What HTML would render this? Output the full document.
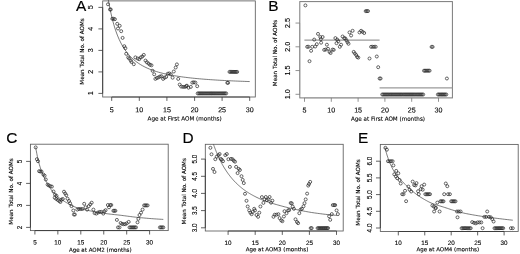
<!DOCTYPE html>
<html lang="en"><head><meta charset="utf-8"><title>Mean total number of AOMs by age at AOM</title>
<style>
html,body{margin:0;padding:0;background:#fff;}
body{width:520px;height:254px;overflow:hidden;font-family:"Liberation Sans",sans-serif;}
svg{display:block;}
</style></head><body>
<svg width="520" height="254" viewBox="0 0 520 254">
<rect width="520" height="254" fill="#fff"/>
<g id="panelA">
<rect x="102.70" y="0.90" width="152.60" height="96.10" fill="none" stroke="#5c5c5c" stroke-width="0.85"/>
<path d="M111.70 97.00H249.70M102.70 7.40V93.40" fill="none" stroke="#2b2b2b" stroke-width="0.75"/>
<path d="M111.70 97.00v3.9M139.30 97.00v3.9M166.90 97.00v3.9M194.60 97.00v3.9M222.10 97.00v3.9M249.70 97.00v3.9M102.70 93.40h-4.3M102.70 71.90h-4.3M102.70 50.40h-4.3M102.70 28.90h-4.3M102.70 7.40h-4.3" fill="none" stroke="#3a3a3a" stroke-width="0.8"/>
<g font-family="Liberation Sans, sans-serif" font-size="7.1" fill="#000" stroke="#000" stroke-width="0.12" text-anchor="middle">
<text transform="translate(111.70 112.20) rotate(0.05)">5</text>
<text transform="translate(139.30 112.20) rotate(0.05)">10</text>
<text transform="translate(166.90 112.20) rotate(0.05)">15</text>
<text transform="translate(194.60 112.20) rotate(0.05)">20</text>
<text transform="translate(222.10 112.20) rotate(0.05)">25</text>
<text transform="translate(249.70 112.20) rotate(0.05)">30</text>
<text transform="translate(92.70 93.40) rotate(-90)">1</text>
<text transform="translate(92.70 71.90) rotate(-90)">2</text>
<text transform="translate(92.70 50.40) rotate(-90)">3</text>
<text transform="translate(92.70 28.90) rotate(-90)">4</text>
<text transform="translate(92.70 7.40) rotate(-90)">5</text>
</g>
<g font-family="DejaVu Sans, Liberation Sans, sans-serif" fill="#000" stroke="#000" stroke-width="0.12" text-anchor="middle">
<text transform="translate(184.60 120.60) rotate(0.04)" font-size="5.64">Age at First AOM (months)</text>
<text transform="translate(84.00 51.50) rotate(-90)" font-size="5.64">Mean Total No. of AOMs</text>
</g>
<text x="76.10" y="10.90" font-family="Liberation Sans, sans-serif" font-size="15.4" fill="#000" stroke="#000" stroke-width="0.15">A</text>
<path d="M108.39 0.10L110.18 9.74L111.97 17.75L113.75 24.48L115.54 30.19L117.33 35.09L119.12 39.33L120.91 43.03L122.70 46.26L124.49 49.12L126.28 51.65L128.06 53.91L129.85 55.94L131.64 57.76L133.43 59.41L135.22 60.90L137.01 62.25L138.80 63.49L140.59 64.63L142.37 65.67L144.16 66.63L145.95 67.51L147.74 68.33L149.53 69.09L151.32 69.79L153.11 70.45L154.90 71.06L156.68 71.63L158.47 72.16L160.26 72.66L162.05 73.13L163.84 73.57L165.63 73.99L167.42 74.38L169.21 74.75L170.99 75.10L172.78 75.43L174.57 75.74L176.36 76.04L178.15 76.32L179.94 76.59L181.73 76.84L183.52 77.08L185.30 77.31L187.09 77.53L188.88 77.74L190.67 77.94L192.46 78.14L194.25 78.32L196.04 78.49L197.83 78.66L199.61 78.82L201.40 78.98L203.19 79.12L204.98 79.27L206.77 79.40L208.56 79.53L210.35 79.66L212.14 79.78L213.92 79.90L215.71 80.01L217.50 80.12L219.29 80.22L221.08 80.33L222.87 80.42L224.66 80.52L226.45 80.61L228.23 80.70L230.02 80.78L231.81 80.86L233.60 80.94L235.39 81.02L237.18 81.10L238.97 81.17L240.76 81.24L242.54 81.31L244.33 81.37L246.12 81.44L247.91 81.50L249.70 81.56" fill="none" stroke="#333" stroke-width="0.65"/>
<g fill="none" stroke="#262626" stroke-width="0.7">
<circle cx="108.0" cy="4.3" r="1.5"/>
<circle cx="110.0" cy="9.5" r="1.5"/>
<circle cx="110.8" cy="9.5" r="1.5"/>
<circle cx="112.3" cy="18.8" r="1.5"/>
<circle cx="113.5" cy="18.8" r="1.5"/>
<circle cx="114.9" cy="19.2" r="1.5"/>
<circle cx="117.2" cy="23.8" r="1.5"/>
<circle cx="119.7" cy="25.8" r="1.5"/>
<circle cx="118.0" cy="28.5" r="1.5"/>
<circle cx="121.2" cy="31.2" r="1.5"/>
<circle cx="122.6" cy="37.9" r="1.5"/>
<circle cx="124.3" cy="46.2" r="1.5"/>
<circle cx="125.4" cy="48.2" r="1.5"/>
<circle cx="126.2" cy="53.8" r="1.5"/>
<circle cx="128.2" cy="57.4" r="1.5"/>
<circle cx="129.2" cy="58.5" r="1.5"/>
<circle cx="130.8" cy="60.5" r="1.5"/>
<circle cx="131.5" cy="62.0" r="1.5"/>
<circle cx="133.8" cy="64.2" r="1.5"/>
<circle cx="135.4" cy="57.4" r="1.5"/>
<circle cx="137.7" cy="58.5" r="1.5"/>
<circle cx="139.2" cy="59.2" r="1.5"/>
<circle cx="140.8" cy="57.4" r="1.5"/>
<circle cx="142.3" cy="56.5" r="1.5"/>
<circle cx="143.8" cy="54.9" r="1.5"/>
<circle cx="145.5" cy="60.6" r="1.5"/>
<circle cx="146.9" cy="62.3" r="1.5"/>
<circle cx="148.5" cy="63.5" r="1.5"/>
<circle cx="150.0" cy="64.8" r="1.5"/>
<circle cx="151.5" cy="65.3" r="1.5"/>
<circle cx="152.6" cy="70.8" r="1.5"/>
<circle cx="154.2" cy="74.3" r="1.5"/>
<circle cx="155.4" cy="78.9" r="1.5"/>
<circle cx="156.9" cy="78.0" r="1.5"/>
<circle cx="158.5" cy="77.4" r="1.5"/>
<circle cx="160.0" cy="76.5" r="1.5"/>
<circle cx="161.5" cy="76.2" r="1.5"/>
<circle cx="163.1" cy="78.9" r="1.5"/>
<circle cx="164.6" cy="77.7" r="1.5"/>
<circle cx="166.2" cy="76.9" r="1.5"/>
<circle cx="167.7" cy="73.8" r="1.5"/>
<circle cx="169.2" cy="73.4" r="1.5"/>
<circle cx="170.8" cy="74.3" r="1.5"/>
<circle cx="172.6" cy="77.7" r="1.5"/>
<circle cx="173.8" cy="71.5" r="1.5"/>
<circle cx="175.7" cy="67.5" r="1.5"/>
<circle cx="176.9" cy="64.4" r="1.5"/>
<circle cx="178.2" cy="78.9" r="1.5"/>
<circle cx="179.7" cy="84.6" r="1.5"/>
<circle cx="181.2" cy="86.6" r="1.5"/>
<circle cx="183.1" cy="86.9" r="1.5"/>
<circle cx="184.9" cy="86.9" r="1.5"/>
<circle cx="186.2" cy="86.2" r="1.5"/>
<circle cx="186.9" cy="85.7" r="1.5"/>
<circle cx="188.5" cy="87.7" r="1.5"/>
<circle cx="190.8" cy="86.9" r="1.5"/>
<circle cx="192.3" cy="82.6" r="1.5"/>
<circle cx="193.8" cy="82.3" r="1.5"/>
<circle cx="195.4" cy="82.6" r="1.5"/>
<circle cx="197.2" cy="86.2" r="1.5"/>
<circle cx="227.3" cy="82.8" r="1.5"/>
<circle cx="228.1" cy="82.8" r="1.5"/>
<circle cx="197.7" cy="93.4" r="1.5"/>
<circle cx="198.8" cy="93.4" r="1.5"/>
<circle cx="199.9" cy="93.4" r="1.5"/>
<circle cx="201.0" cy="93.4" r="1.5"/>
<circle cx="202.1" cy="93.4" r="1.5"/>
<circle cx="203.2" cy="93.4" r="1.5"/>
<circle cx="204.3" cy="93.4" r="1.5"/>
<circle cx="205.4" cy="93.4" r="1.5"/>
<circle cx="206.5" cy="93.4" r="1.5"/>
<circle cx="207.6" cy="93.4" r="1.5"/>
<circle cx="208.7" cy="93.4" r="1.5"/>
<circle cx="209.8" cy="93.4" r="1.5"/>
<circle cx="210.9" cy="93.4" r="1.5"/>
<circle cx="211.9" cy="93.4" r="1.5"/>
<circle cx="213.0" cy="93.4" r="1.5"/>
<circle cx="214.1" cy="93.4" r="1.5"/>
<circle cx="215.2" cy="93.4" r="1.5"/>
<circle cx="216.3" cy="93.4" r="1.5"/>
<circle cx="217.4" cy="93.4" r="1.5"/>
<circle cx="218.5" cy="93.4" r="1.5"/>
<circle cx="219.6" cy="93.4" r="1.5"/>
<circle cx="220.7" cy="93.4" r="1.5"/>
<circle cx="221.8" cy="93.4" r="1.5"/>
<circle cx="222.9" cy="93.4" r="1.5"/>
<circle cx="224.0" cy="93.4" r="1.5"/>
<circle cx="225.1" cy="93.4" r="1.5"/>
<circle cx="226.2" cy="93.4" r="1.5"/>
<circle cx="229.5" cy="71.9" r="1.5"/>
<circle cx="230.6" cy="71.9" r="1.5"/>
<circle cx="231.7" cy="71.9" r="1.5"/>
<circle cx="232.8" cy="71.9" r="1.5"/>
<circle cx="233.9" cy="71.9" r="1.5"/>
<circle cx="235.0" cy="71.9" r="1.5"/>
<circle cx="236.1" cy="71.9" r="1.5"/>
<circle cx="237.2" cy="71.9" r="1.5"/>
</g>
</g>
<g id="panelB">
<rect x="299.80" y="1.60" width="152.60" height="96.30" fill="none" stroke="#7a7a7a" stroke-width="1.0"/>
<path d="M304.50 97.90H438.50M299.80 23.05V94.30" fill="none" stroke="#777" stroke-width="0.3"/>
<path d="M304.50 97.90v3.9M331.30 97.90v3.9M358.10 97.90v3.9M384.90 97.90v3.9M411.70 97.90v3.9M438.50 97.90v3.9M299.80 94.30h-4.3M299.80 70.55h-4.3M299.80 46.80h-4.3M299.80 23.05h-4.3" fill="none" stroke="#777" stroke-width="0.8"/>
<g font-family="Liberation Sans, sans-serif" font-size="7.1" fill="#000" stroke="#000" stroke-width="0.12" text-anchor="middle">
<text transform="translate(304.50 112.60) rotate(0.05)">5</text>
<text transform="translate(331.30 112.60) rotate(0.05)">10</text>
<text transform="translate(358.10 112.60) rotate(0.05)">15</text>
<text transform="translate(384.90 112.60) rotate(0.05)">20</text>
<text transform="translate(411.70 112.60) rotate(0.05)">25</text>
<text transform="translate(438.50 112.60) rotate(0.05)">30</text>
<text transform="translate(289.80 94.30) rotate(-90)">1.0</text>
<text transform="translate(289.80 70.55) rotate(-90)">1.5</text>
<text transform="translate(289.80 46.80) rotate(-90)">2.0</text>
<text transform="translate(289.80 23.05) rotate(-90)">2.5</text>
</g>
<g font-family="DejaVu Sans, Liberation Sans, sans-serif" fill="#000" stroke="#000" stroke-width="0.12" text-anchor="middle">
<text transform="translate(388.00 120.70) rotate(0.04)" font-size="5.64">Age at First AOM (months)</text>
<text transform="translate(277.10 53.00) rotate(-90)" font-size="5.64">Mean Total No. of AOMs</text>
</g>
<text x="268.20" y="10.90" font-family="Liberation Sans, sans-serif" font-size="15.4" fill="#000" stroke="#000" stroke-width="0.15">B</text>
<path d="M304.40 40.10H379.60" fill="none" stroke="#9a9a9a" stroke-width="1.1"/>
<path d="M379.60 87.90H452.40" fill="none" stroke="#9a9a9a" stroke-width="1.1"/>
<g fill="none" stroke="#262626" stroke-width="0.7">
<circle cx="305.4" cy="5.4" r="1.5"/>
<circle cx="365.7" cy="11.1" r="1.5"/>
<circle cx="366.8" cy="11.1" r="1.5"/>
<circle cx="368.0" cy="11.1" r="1.5"/>
<circle cx="307.2" cy="46.8" r="1.5"/>
<circle cx="308.5" cy="46.8" r="1.5"/>
<circle cx="309.5" cy="61.2" r="1.5"/>
<circle cx="311.1" cy="50.8" r="1.5"/>
<circle cx="312.2" cy="46.8" r="1.5"/>
<circle cx="314.2" cy="39.6" r="1.5"/>
<circle cx="315.2" cy="46.5" r="1.5"/>
<circle cx="316.8" cy="44.2" r="1.5"/>
<circle cx="318.0" cy="33.9" r="1.5"/>
<circle cx="320.3" cy="37.0" r="1.5"/>
<circle cx="322.6" cy="37.0" r="1.5"/>
<circle cx="320.8" cy="39.2" r="1.5"/>
<circle cx="321.1" cy="42.7" r="1.5"/>
<circle cx="326.9" cy="44.7" r="1.5"/>
<circle cx="324.2" cy="49.9" r="1.5"/>
<circle cx="325.7" cy="49.6" r="1.5"/>
<circle cx="328.0" cy="48.8" r="1.5"/>
<circle cx="329.5" cy="51.9" r="1.5"/>
<circle cx="330.6" cy="53.0" r="1.5"/>
<circle cx="332.6" cy="49.6" r="1.5"/>
<circle cx="333.7" cy="49.9" r="1.5"/>
<circle cx="335.4" cy="38.1" r="1.5"/>
<circle cx="337.2" cy="39.6" r="1.5"/>
<circle cx="338.3" cy="41.2" r="1.5"/>
<circle cx="336.5" cy="43.2" r="1.5"/>
<circle cx="341.1" cy="44.7" r="1.5"/>
<circle cx="339.8" cy="46.8" r="1.5"/>
<circle cx="342.6" cy="36.5" r="1.5"/>
<circle cx="344.2" cy="38.1" r="1.5"/>
<circle cx="345.4" cy="38.5" r="1.5"/>
<circle cx="346.5" cy="40.4" r="1.5"/>
<circle cx="347.5" cy="42.2" r="1.5"/>
<circle cx="348.5" cy="43.8" r="1.5"/>
<circle cx="349.5" cy="32.4" r="1.5"/>
<circle cx="352.6" cy="30.8" r="1.5"/>
<circle cx="351.1" cy="35.5" r="1.5"/>
<circle cx="359.5" cy="32.4" r="1.5"/>
<circle cx="361.1" cy="30.8" r="1.5"/>
<circle cx="362.6" cy="31.9" r="1.5"/>
<circle cx="364.2" cy="33.0" r="1.5"/>
<circle cx="353.7" cy="51.9" r="1.5"/>
<circle cx="354.9" cy="53.5" r="1.5"/>
<circle cx="356.2" cy="55.0" r="1.5"/>
<circle cx="357.2" cy="57.0" r="1.5"/>
<circle cx="358.3" cy="57.6" r="1.5"/>
<circle cx="369.5" cy="58.5" r="1.5"/>
<circle cx="371.1" cy="46.8" r="1.5"/>
<circle cx="372.6" cy="46.8" r="1.5"/>
<circle cx="374.2" cy="46.8" r="1.5"/>
<circle cx="375.7" cy="46.8" r="1.5"/>
<circle cx="376.8" cy="56.5" r="1.5"/>
<circle cx="378.2" cy="67.2" r="1.5"/>
<circle cx="379.6" cy="78.5" r="1.5"/>
<circle cx="380.6" cy="78.5" r="1.5"/>
<circle cx="431.6" cy="46.9" r="1.5"/>
<circle cx="432.6" cy="46.9" r="1.5"/>
<circle cx="446.9" cy="78.5" r="1.5"/>
<circle cx="424.0" cy="70.7" r="1.5"/>
<circle cx="425.1" cy="70.7" r="1.5"/>
<circle cx="426.2" cy="70.7" r="1.5"/>
<circle cx="427.4" cy="70.7" r="1.5"/>
<circle cx="428.5" cy="70.7" r="1.5"/>
<circle cx="429.6" cy="70.7" r="1.5"/>
<circle cx="382.2" cy="94.5" r="1.5"/>
<circle cx="383.3" cy="94.5" r="1.5"/>
<circle cx="384.4" cy="94.5" r="1.5"/>
<circle cx="385.5" cy="94.5" r="1.5"/>
<circle cx="386.6" cy="94.5" r="1.5"/>
<circle cx="387.7" cy="94.5" r="1.5"/>
<circle cx="388.8" cy="94.5" r="1.5"/>
<circle cx="390.0" cy="94.5" r="1.5"/>
<circle cx="391.1" cy="94.5" r="1.5"/>
<circle cx="392.2" cy="94.5" r="1.5"/>
<circle cx="393.3" cy="94.5" r="1.5"/>
<circle cx="394.4" cy="94.5" r="1.5"/>
<circle cx="395.5" cy="94.5" r="1.5"/>
<circle cx="396.6" cy="94.5" r="1.5"/>
<circle cx="397.7" cy="94.5" r="1.5"/>
<circle cx="398.8" cy="94.5" r="1.5"/>
<circle cx="399.9" cy="94.5" r="1.5"/>
<circle cx="401.0" cy="94.5" r="1.5"/>
<circle cx="402.1" cy="94.5" r="1.5"/>
<circle cx="403.3" cy="94.5" r="1.5"/>
<circle cx="404.4" cy="94.5" r="1.5"/>
<circle cx="405.5" cy="94.5" r="1.5"/>
<circle cx="406.6" cy="94.5" r="1.5"/>
<circle cx="407.7" cy="94.5" r="1.5"/>
<circle cx="408.8" cy="94.5" r="1.5"/>
<circle cx="409.9" cy="94.5" r="1.5"/>
<circle cx="411.0" cy="94.5" r="1.5"/>
<circle cx="412.1" cy="94.5" r="1.5"/>
<circle cx="413.2" cy="94.5" r="1.5"/>
<circle cx="414.3" cy="94.5" r="1.5"/>
<circle cx="415.4" cy="94.5" r="1.5"/>
<circle cx="416.6" cy="94.5" r="1.5"/>
<circle cx="417.7" cy="94.5" r="1.5"/>
<circle cx="418.8" cy="94.5" r="1.5"/>
<circle cx="419.9" cy="94.5" r="1.5"/>
<circle cx="421.0" cy="94.5" r="1.5"/>
<circle cx="422.1" cy="94.5" r="1.5"/>
<circle cx="423.2" cy="94.5" r="1.5"/>
<circle cx="437.9" cy="94.5" r="1.5"/>
<circle cx="438.9" cy="94.5" r="1.5"/>
<circle cx="440.0" cy="94.5" r="1.5"/>
<circle cx="441.1" cy="94.5" r="1.5"/>
<circle cx="442.1" cy="94.5" r="1.5"/>
<circle cx="443.1" cy="94.5" r="1.5"/>
<circle cx="444.2" cy="94.5" r="1.5"/>
<circle cx="445.2" cy="94.5" r="1.5"/>
<circle cx="446.3" cy="94.5" r="1.5"/>
</g>
</g>
<g id="panelC">
<rect x="30.40" y="144.20" width="137.80" height="86.40" fill="none" stroke="#5c5c5c" stroke-width="0.85"/>
<path d="M34.90 230.60H149.60M30.40 161.40V227.40" fill="none" stroke="#2b2b2b" stroke-width="0.75"/>
<path d="M34.90 230.60v3.9M57.85 230.60v3.9M80.80 230.60v3.9M103.75 230.60v3.9M126.70 230.60v3.9M149.60 230.60v3.9M30.40 227.40h-4.3M30.40 205.40h-4.3M30.40 183.40h-4.3M30.40 161.40h-4.3" fill="none" stroke="#3a3a3a" stroke-width="0.8"/>
<g font-family="Liberation Sans, sans-serif" font-size="6.3" fill="#000" stroke="#000" stroke-width="0.12" text-anchor="middle">
<text transform="translate(34.90 244.60) rotate(0.05)">5</text>
<text transform="translate(57.85 244.60) rotate(0.05)">10</text>
<text transform="translate(80.80 244.60) rotate(0.05)">15</text>
<text transform="translate(103.75 244.60) rotate(0.05)">20</text>
<text transform="translate(126.70 244.60) rotate(0.05)">25</text>
<text transform="translate(149.60 244.60) rotate(0.05)">30</text>
<text transform="translate(21.60 227.40) rotate(-90)">2</text>
<text transform="translate(21.60 205.40) rotate(-90)">3</text>
<text transform="translate(21.60 183.40) rotate(-90)">4</text>
<text transform="translate(21.60 161.40) rotate(-90)">5</text>
</g>
<g font-family="DejaVu Sans, Liberation Sans, sans-serif" fill="#000" stroke="#000" stroke-width="0.12" text-anchor="middle">
<text transform="translate(100.30 251.80) rotate(0.04)" font-size="5.5">Age at AOM2 (months)</text>
<text transform="translate(13.10 191.50) rotate(-90)" font-size="5.64">Mean Total No. of AOMs</text>
</g>
<text x="6.30" y="143.40" font-family="Liberation Sans, sans-serif" font-size="15.4" fill="#000" stroke="#000" stroke-width="0.15">C</text>
<path d="M35.70 147.40L35.76 147.76L35.88 148.49L36.05 149.47L36.26 150.65L36.50 151.97L36.77 153.42L37.07 154.95L37.40 156.53L37.75 158.13L38.13 159.75L38.53 161.39L38.95 163.02L39.39 164.63L39.86 166.21L40.34 167.78L40.85 169.32L41.37 170.82L41.91 172.28L42.48 173.68L43.06 175.02L43.65 176.33L44.27 177.61L44.90 178.90L45.55 180.20L46.21 181.50L46.89 182.79L47.59 184.06L48.30 185.28L49.03 186.45L49.77 187.60L50.53 188.73L51.30 189.83L52.09 190.88L52.89 191.87L53.71 192.82L54.54 193.73L55.38 194.61L56.24 195.45L57.11 196.25L58.00 197.00L58.90 197.71L59.81 198.39L60.73 199.04L61.67 199.67L62.62 200.29L63.59 200.89L64.56 201.48L65.55 202.07L66.55 202.68L67.57 203.28L68.59 203.89L69.63 204.48L70.68 205.05L71.74 205.59L72.82 206.11L73.90 206.58L75.00 207.00L76.11 207.38L77.23 207.74L78.36 208.09L79.50 208.42L80.66 208.73L81.82 209.03L83.00 209.32L84.19 209.60L85.39 209.87L86.60 210.13L87.82 210.39L89.05 210.65L90.29 210.91L91.55 211.16L92.81 211.41L94.08 211.65L95.37 211.89L96.66 212.12L97.97 212.35L99.29 212.57L100.61 212.78L101.95 212.99L103.30 213.20L104.65 213.40L106.02 213.59L107.40 213.77L108.78 213.95L110.18 214.11L111.59 214.27L113.00 214.43L114.43 214.58L115.87 214.74L117.31 214.89L118.77 215.06L120.23 215.23L121.71 215.41L123.19 215.60L124.69 215.79L126.19 215.99L127.70 216.19L129.23 216.39L130.76 216.59L132.30 216.78L133.85 216.97L135.41 217.15L136.98 217.33L138.56 217.49L140.14 217.64L141.74 217.79L143.34 217.93L144.96 218.08L146.58 218.22L148.21 218.36L149.85 218.50L151.50 218.63L153.16 218.75L154.83 218.88L156.51 218.99L158.19 219.10L159.89 219.21L161.59 219.31L163.30 219.40" fill="none" stroke="#333" stroke-width="0.65"/>
<g fill="none" stroke="#262626" stroke-width="0.7">
<circle cx="35.7" cy="147.4" r="1.5"/>
<circle cx="36.9" cy="159.2" r="1.5"/>
<circle cx="38.0" cy="161.2" r="1.5"/>
<circle cx="39.1" cy="171.2" r="1.5"/>
<circle cx="40.3" cy="171.5" r="1.5"/>
<circle cx="41.5" cy="171.5" r="1.5"/>
<circle cx="43.4" cy="174.6" r="1.5"/>
<circle cx="44.6" cy="175.7" r="1.5"/>
<circle cx="45.8" cy="179.5" r="1.5"/>
<circle cx="47.6" cy="184.6" r="1.5"/>
<circle cx="48.8" cy="185.4" r="1.5"/>
<circle cx="50.4" cy="186.2" r="1.5"/>
<circle cx="51.9" cy="186.6" r="1.5"/>
<circle cx="53.5" cy="191.5" r="1.5"/>
<circle cx="55.0" cy="194.6" r="1.5"/>
<circle cx="56.5" cy="195.8" r="1.5"/>
<circle cx="54.7" cy="197.7" r="1.5"/>
<circle cx="56.2" cy="198.9" r="1.5"/>
<circle cx="57.8" cy="200.0" r="1.5"/>
<circle cx="59.3" cy="201.1" r="1.5"/>
<circle cx="60.4" cy="202.0" r="1.5"/>
<circle cx="61.5" cy="199.6" r="1.5"/>
<circle cx="62.8" cy="199.0" r="1.5"/>
<circle cx="64.0" cy="191.7" r="1.5"/>
<circle cx="65.2" cy="193.5" r="1.5"/>
<circle cx="66.3" cy="195.2" r="1.5"/>
<circle cx="67.5" cy="198.7" r="1.5"/>
<circle cx="69.0" cy="201.0" r="1.5"/>
<circle cx="70.1" cy="203.3" r="1.5"/>
<circle cx="71.5" cy="206.1" r="1.5"/>
<circle cx="73.3" cy="210.5" r="1.5"/>
<circle cx="73.9" cy="214.5" r="1.5"/>
<circle cx="74.9" cy="214.5" r="1.5"/>
<circle cx="77.3" cy="209.6" r="1.5"/>
<circle cx="79.0" cy="209.0" r="1.5"/>
<circle cx="80.8" cy="209.0" r="1.5"/>
<circle cx="82.5" cy="209.0" r="1.5"/>
<circle cx="84.2" cy="203.8" r="1.5"/>
<circle cx="85.6" cy="207.3" r="1.5"/>
<circle cx="87.1" cy="209.6" r="1.5"/>
<circle cx="88.8" cy="206.1" r="1.5"/>
<circle cx="90.2" cy="204.4" r="1.5"/>
<circle cx="91.7" cy="202.7" r="1.5"/>
<circle cx="93.4" cy="209.6" r="1.5"/>
<circle cx="94.6" cy="213.1" r="1.5"/>
<circle cx="96.3" cy="213.6" r="1.5"/>
<circle cx="98.1" cy="212.5" r="1.5"/>
<circle cx="99.8" cy="211.9" r="1.5"/>
<circle cx="101.5" cy="211.9" r="1.5"/>
<circle cx="103.3" cy="213.6" r="1.5"/>
<circle cx="104.4" cy="211.3" r="1.5"/>
<circle cx="105.6" cy="210.2" r="1.5"/>
<circle cx="107.9" cy="205.0" r="1.5"/>
<circle cx="109.0" cy="207.3" r="1.5"/>
<circle cx="110.2" cy="205.0" r="1.5"/>
<circle cx="111.3" cy="205.0" r="1.5"/>
<circle cx="113.4" cy="210.8" r="1.5"/>
<circle cx="114.4" cy="210.8" r="1.5"/>
<circle cx="115.4" cy="210.8" r="1.5"/>
<circle cx="116.9" cy="219.9" r="1.5"/>
<circle cx="120.6" cy="223.0" r="1.5"/>
<circle cx="122.1" cy="223.9" r="1.5"/>
<circle cx="123.7" cy="224.2" r="1.5"/>
<circle cx="125.2" cy="224.2" r="1.5"/>
<circle cx="126.7" cy="223.4" r="1.5"/>
<circle cx="128.7" cy="221.9" r="1.5"/>
<circle cx="118.0" cy="227.4" r="1.5"/>
<circle cx="119.5" cy="227.4" r="1.5"/>
<circle cx="137.5" cy="222.3" r="1.5"/>
<circle cx="138.4" cy="218.8" r="1.5"/>
<circle cx="139.5" cy="215.0" r="1.5"/>
<circle cx="141.0" cy="212.7" r="1.5"/>
<circle cx="142.6" cy="209.6" r="1.5"/>
<circle cx="129.5" cy="227.4" r="1.5"/>
<circle cx="130.6" cy="227.4" r="1.5"/>
<circle cx="131.7" cy="227.4" r="1.5"/>
<circle cx="132.8" cy="227.4" r="1.5"/>
<circle cx="133.8" cy="227.4" r="1.5"/>
<circle cx="134.9" cy="227.4" r="1.5"/>
<circle cx="136.0" cy="227.4" r="1.5"/>
<circle cx="144.1" cy="205.4" r="1.5"/>
<circle cx="145.3" cy="205.4" r="1.5"/>
<circle cx="146.4" cy="205.4" r="1.5"/>
<circle cx="147.6" cy="205.4" r="1.5"/>
<circle cx="159.9" cy="227.4" r="1.5"/>
<circle cx="161.0" cy="227.4" r="1.5"/>
<circle cx="162.2" cy="227.4" r="1.5"/>
<circle cx="163.3" cy="227.4" r="1.5"/>
</g>
</g>
<g id="panelD">
<rect x="205.30" y="144.30" width="137.90" height="86.70" fill="none" stroke="#5c5c5c" stroke-width="0.85"/>
<path d="M228.10 231.00H336.50M205.30 159.10V227.80" fill="none" stroke="#2b2b2b" stroke-width="0.75"/>
<path d="M228.10 231.00v3.9M255.20 231.00v3.9M282.30 231.00v3.9M309.40 231.00v3.9M336.50 231.00v3.9M205.30 227.80h-4.3M205.30 210.60h-4.3M205.30 193.40h-4.3M205.30 176.30h-4.3M205.30 159.10h-4.3" fill="none" stroke="#3a3a3a" stroke-width="0.8"/>
<g font-family="Liberation Sans, sans-serif" font-size="6.3" fill="#000" stroke="#000" stroke-width="0.12" text-anchor="middle">
<text transform="translate(228.10 244.90) rotate(0.05)">10</text>
<text transform="translate(255.20 244.90) rotate(0.05)">15</text>
<text transform="translate(282.30 244.90) rotate(0.05)">20</text>
<text transform="translate(309.40 244.90) rotate(0.05)">25</text>
<text transform="translate(336.50 244.90) rotate(0.05)">30</text>
<text transform="translate(196.50 227.80) rotate(-90)">3.0</text>
<text transform="translate(196.50 210.60) rotate(-90)">3.5</text>
<text transform="translate(196.50 193.40) rotate(-90)">4.0</text>
<text transform="translate(196.50 176.30) rotate(-90)">4.5</text>
<text transform="translate(196.50 159.10) rotate(-90)">5.0</text>
</g>
<g font-family="DejaVu Sans, Liberation Sans, sans-serif" fill="#000" stroke="#000" stroke-width="0.12" text-anchor="middle">
<text transform="translate(277.00 251.30) rotate(0.04)" font-size="5.5">Age at AOM3 (months)</text>
<text transform="translate(185.80 191.30) rotate(-90)" font-size="5.64">Mean Total No. of AOMs</text>
</g>
<text x="182.50" y="143.40" font-family="Liberation Sans, sans-serif" font-size="15.4" fill="#000" stroke="#000" stroke-width="0.15">D</text>
<path d="M213.50 144.40L213.56 144.56L213.68 144.90L213.84 145.35L214.04 145.90L214.27 146.53L214.54 147.23L214.83 148.00L215.14 148.83L215.48 149.70L215.85 150.62L216.23 151.57L216.64 152.56L217.07 153.58L217.52 154.62L217.99 155.69L218.48 156.77L218.98 157.88L219.51 159.00L220.05 160.13L220.61 161.26L221.19 162.39L221.79 163.51L222.40 164.62L223.02 165.73L223.67 166.83L224.32 167.92L225.00 168.99L225.69 170.06L226.39 171.12L227.11 172.18L227.84 173.22L228.59 174.25L229.35 175.26L230.13 176.27L230.92 177.26L231.72 178.24L232.54 179.19L233.37 180.13L234.21 181.04L235.06 181.93L235.93 182.81L236.82 183.67L237.71 184.52L238.62 185.35L239.54 186.16L240.47 186.96L241.41 187.74L242.37 188.50L243.34 189.26L244.32 189.99L245.31 190.71L246.31 191.41L247.33 192.09L248.36 192.74L249.39 193.38L250.44 194.01L251.50 194.62L252.58 195.21L253.66 195.80L254.76 196.37L255.86 196.93L256.98 197.49L258.11 198.03L259.24 198.57L260.39 199.10L261.55 199.61L262.72 200.10L263.90 200.56L265.09 201.01L266.30 201.43L267.51 201.84L268.73 202.24L269.96 202.63L271.20 203.01L272.46 203.39L273.72 203.77L274.99 204.15L276.28 204.52L277.57 204.89L278.87 205.26L280.18 205.62L281.51 205.98L282.84 206.34L284.18 206.69L285.53 207.03L286.89 207.38L288.26 207.72L289.64 208.05L291.03 208.38L292.43 208.71L293.84 209.03L295.25 209.34L296.68 209.64L298.11 209.94L299.56 210.23L301.01 210.53L302.48 210.82L303.95 211.12L305.43 211.40L306.92 211.68L308.42 211.95L309.93 212.21L311.44 212.47L312.97 212.70L314.51 212.93L316.05 213.14L317.60 213.35L319.16 213.56L320.73 213.76L322.31 213.96L323.90 214.15L325.49 214.34L327.10 214.52L328.71 214.69L330.33 214.85L331.96 215.00L333.60 215.15L335.25 215.28L336.90 215.40" fill="none" stroke="#333" stroke-width="0.65"/>
<g fill="none" stroke="#262626" stroke-width="0.7">
<circle cx="210.4" cy="147.8" r="1.5"/>
<circle cx="211.5" cy="154.3" r="1.5"/>
<circle cx="215.3" cy="159.2" r="1.5"/>
<circle cx="213.0" cy="168.9" r="1.5"/>
<circle cx="214.5" cy="172.0" r="1.5"/>
<circle cx="216.8" cy="156.6" r="1.5"/>
<circle cx="218.4" cy="155.1" r="1.5"/>
<circle cx="219.6" cy="154.0" r="1.5"/>
<circle cx="220.7" cy="158.9" r="1.5"/>
<circle cx="221.8" cy="159.7" r="1.5"/>
<circle cx="223.0" cy="161.2" r="1.5"/>
<circle cx="225.3" cy="155.1" r="1.5"/>
<circle cx="226.8" cy="154.0" r="1.5"/>
<circle cx="228.4" cy="159.2" r="1.5"/>
<circle cx="231.0" cy="158.9" r="1.5"/>
<circle cx="232.5" cy="159.2" r="1.5"/>
<circle cx="233.8" cy="160.8" r="1.5"/>
<circle cx="235.0" cy="161.7" r="1.5"/>
<circle cx="229.9" cy="166.9" r="1.5"/>
<circle cx="236.1" cy="166.9" r="1.5"/>
<circle cx="238.7" cy="168.9" r="1.5"/>
<circle cx="239.9" cy="170.0" r="1.5"/>
<circle cx="237.6" cy="173.1" r="1.5"/>
<circle cx="241.5" cy="176.2" r="1.5"/>
<circle cx="242.7" cy="179.9" r="1.5"/>
<circle cx="243.8" cy="183.1" r="1.5"/>
<circle cx="245.0" cy="193.8" r="1.5"/>
<circle cx="246.5" cy="200.8" r="1.5"/>
<circle cx="247.7" cy="206.5" r="1.5"/>
<circle cx="249.2" cy="210.4" r="1.5"/>
<circle cx="250.4" cy="212.7" r="1.5"/>
<circle cx="251.6" cy="214.2" r="1.5"/>
<circle cx="252.7" cy="211.9" r="1.5"/>
<circle cx="254.2" cy="208.8" r="1.5"/>
<circle cx="255.0" cy="210.4" r="1.5"/>
<circle cx="256.5" cy="215.0" r="1.5"/>
<circle cx="258.1" cy="216.8" r="1.5"/>
<circle cx="259.3" cy="212.7" r="1.5"/>
<circle cx="260.4" cy="206.5" r="1.5"/>
<circle cx="263.4" cy="202.9" r="1.5"/>
<circle cx="261.9" cy="197.1" r="1.5"/>
<circle cx="265.8" cy="197.0" r="1.5"/>
<circle cx="269.6" cy="197.0" r="1.5"/>
<circle cx="264.6" cy="199.4" r="1.5"/>
<circle cx="266.9" cy="200.2" r="1.5"/>
<circle cx="268.5" cy="199.3" r="1.5"/>
<circle cx="272.4" cy="200.7" r="1.5"/>
<circle cx="271.0" cy="202.7" r="1.5"/>
<circle cx="273.5" cy="216.8" r="1.5"/>
<circle cx="274.7" cy="214.7" r="1.5"/>
<circle cx="276.5" cy="214.7" r="1.5"/>
<circle cx="278.4" cy="214.2" r="1.5"/>
<circle cx="279.6" cy="218.1" r="1.5"/>
<circle cx="281.2" cy="220.4" r="1.5"/>
<circle cx="282.4" cy="221.2" r="1.5"/>
<circle cx="283.9" cy="216.5" r="1.5"/>
<circle cx="284.5" cy="211.2" r="1.5"/>
<circle cx="286.5" cy="213.2" r="1.5"/>
<circle cx="288.1" cy="210.4" r="1.5"/>
<circle cx="289.2" cy="210.1" r="1.5"/>
<circle cx="290.7" cy="203.0" r="1.5"/>
<circle cx="291.8" cy="203.4" r="1.5"/>
<circle cx="292.7" cy="206.6" r="1.5"/>
<circle cx="293.9" cy="208.8" r="1.5"/>
<circle cx="295.5" cy="219.3" r="1.5"/>
<circle cx="297.0" cy="222.0" r="1.5"/>
<circle cx="298.1" cy="223.2" r="1.5"/>
<circle cx="299.3" cy="213.2" r="1.5"/>
<circle cx="300.6" cy="209.6" r="1.5"/>
<circle cx="301.9" cy="208.8" r="1.5"/>
<circle cx="303.5" cy="206.3" r="1.5"/>
<circle cx="304.5" cy="203.2" r="1.5"/>
<circle cx="305.7" cy="199.4" r="1.5"/>
<circle cx="307.1" cy="193.6" r="1.5"/>
<circle cx="308.2" cy="185.6" r="1.5"/>
<circle cx="309.0" cy="184.0" r="1.5"/>
<circle cx="310.2" cy="181.9" r="1.5"/>
<circle cx="310.7" cy="228.1" r="1.5"/>
<circle cx="311.7" cy="228.1" r="1.5"/>
<circle cx="332.8" cy="205.1" r="1.5"/>
<circle cx="334.2" cy="205.1" r="1.5"/>
<circle cx="335.2" cy="205.1" r="1.5"/>
<circle cx="336.6" cy="210.4" r="1.5"/>
<circle cx="337.9" cy="214.1" r="1.5"/>
<circle cx="331.8" cy="214.1" r="1.5"/>
<circle cx="329.1" cy="216.3" r="1.5"/>
<circle cx="330.2" cy="219.8" r="1.5"/>
<circle cx="317.6" cy="228.1" r="1.5"/>
<circle cx="318.7" cy="228.1" r="1.5"/>
<circle cx="319.7" cy="228.1" r="1.5"/>
<circle cx="320.8" cy="228.1" r="1.5"/>
<circle cx="321.8" cy="228.1" r="1.5"/>
<circle cx="322.9" cy="228.1" r="1.5"/>
<circle cx="323.9" cy="228.1" r="1.5"/>
<circle cx="325.0" cy="228.1" r="1.5"/>
<circle cx="326.0" cy="228.1" r="1.5"/>
<circle cx="327.1" cy="228.1" r="1.5"/>
<circle cx="328.1" cy="228.1" r="1.5"/>
</g>
</g>
<g id="panelE">
<rect x="380.30" y="144.40" width="137.90" height="87.10" fill="none" stroke="#5c5c5c" stroke-width="0.85"/>
<path d="M398.30 231.50H504.10M380.30 161.20V228.00" fill="none" stroke="#2b2b2b" stroke-width="0.75"/>
<path d="M398.30 231.50v3.9M424.75 231.50v3.9M451.20 231.50v3.9M477.65 231.50v3.9M504.10 231.50v3.9M380.30 228.00h-4.3M380.30 211.30h-4.3M380.30 194.60h-4.3M380.30 177.90h-4.3M380.30 161.20h-4.3" fill="none" stroke="#3a3a3a" stroke-width="0.8"/>
<g font-family="Liberation Sans, sans-serif" font-size="6.3" fill="#000" stroke="#000" stroke-width="0.12" text-anchor="middle">
<text transform="translate(398.30 244.90) rotate(0.05)">10</text>
<text transform="translate(424.75 244.90) rotate(0.05)">15</text>
<text transform="translate(451.20 244.90) rotate(0.05)">20</text>
<text transform="translate(477.65 244.90) rotate(0.05)">25</text>
<text transform="translate(504.10 244.90) rotate(0.05)">30</text>
<text transform="translate(371.70 228.00) rotate(-90)">4.0</text>
<text transform="translate(371.70 211.30) rotate(-90)">4.5</text>
<text transform="translate(371.70 194.60) rotate(-90)">5.0</text>
<text transform="translate(371.70 177.90) rotate(-90)">5.5</text>
<text transform="translate(371.70 161.20) rotate(-90)">6.0</text>
</g>
<g font-family="DejaVu Sans, Liberation Sans, sans-serif" fill="#000" stroke="#000" stroke-width="0.12" text-anchor="middle">
<text transform="translate(447.80 251.30) rotate(0.04)" font-size="5.5">Age at AOM4 (months)</text>
<text transform="translate(359.70 192.50) rotate(-90)" font-size="5.64">Mean Total No. of AOMs</text>
</g>
<text x="358.00" y="143.40" font-family="Liberation Sans, sans-serif" font-size="15.4" fill="#000" stroke="#000" stroke-width="0.15">E</text>
<path d="M384.90 147.40L384.96 147.64L385.09 148.13L385.25 148.80L385.46 149.59L385.70 150.50L385.97 151.50L386.27 152.58L386.60 153.70L386.95 154.86L387.33 156.03L387.73 157.23L388.16 158.45L388.60 159.67L389.07 160.90L389.55 162.13L390.06 163.36L390.58 164.58L391.13 165.79L391.69 166.98L392.27 168.14L392.87 169.30L393.49 170.45L394.12 171.56L394.77 172.60L395.44 173.58L396.12 174.53L396.82 175.43L397.53 176.32L398.26 177.18L399.01 178.04L399.77 178.90L400.54 179.74L401.33 180.57L402.13 181.38L402.95 182.19L403.78 183.01L404.63 183.84L405.49 184.68L406.36 185.55L407.25 186.43L408.15 187.31L409.07 188.19L409.99 189.06L410.93 189.91L411.89 190.73L412.85 191.53L413.83 192.32L414.82 193.10L415.82 193.87L416.84 194.62L417.87 195.36L418.91 196.07L419.96 196.77L421.03 197.45L422.10 198.12L423.19 198.76L424.29 199.40L425.40 200.03L426.53 200.65L427.66 201.28L428.81 201.88L429.96 202.45L431.13 202.97L432.31 203.44L433.50 203.89L434.70 204.31L435.92 204.72L437.14 205.11L438.38 205.49L439.62 205.87L440.88 206.25L442.14 206.64L443.42 207.04L444.71 207.45L446.01 207.88L447.32 208.31L448.64 208.75L449.96 209.19L451.30 209.63L452.65 210.06L454.01 210.49L455.39 210.92L456.77 211.33L458.16 211.72L459.56 212.10L460.97 212.45L462.39 212.78L463.82 213.10L465.26 213.41L466.71 213.70L468.16 213.99L469.63 214.27L471.11 214.54L472.60 214.81L474.10 215.07L475.60 215.32L477.12 215.57L478.65 215.82L480.18 216.06L481.73 216.30L483.28 216.53L484.84 216.76L486.42 216.98L488.00 217.20L489.59 217.41L491.19 217.62L492.80 217.83L494.41 218.04L496.04 218.24L497.68 218.45L499.32 218.65L500.98 218.85L502.64 219.05L504.31 219.25L505.99 219.45L507.68 219.64L509.38 219.83L511.08 220.02L512.80 220.20" fill="none" stroke="#333" stroke-width="0.65"/>
<g fill="none" stroke="#262626" stroke-width="0.7">
<circle cx="385.4" cy="147.8" r="1.5"/>
<circle cx="386.9" cy="149.7" r="1.5"/>
<circle cx="388.0" cy="161.2" r="1.5"/>
<circle cx="389.5" cy="161.2" r="1.5"/>
<circle cx="391.1" cy="161.2" r="1.5"/>
<circle cx="392.6" cy="161.2" r="1.5"/>
<circle cx="393.4" cy="165.4" r="1.5"/>
<circle cx="396.2" cy="170.9" r="1.5"/>
<circle cx="398.3" cy="173.3" r="1.5"/>
<circle cx="394.3" cy="174.3" r="1.5"/>
<circle cx="395.9" cy="176.4" r="1.5"/>
<circle cx="397.2" cy="178.2" r="1.5"/>
<circle cx="399.6" cy="180.0" r="1.5"/>
<circle cx="400.7" cy="183.5" r="1.5"/>
<circle cx="402.2" cy="194.2" r="1.5"/>
<circle cx="403.5" cy="194.2" r="1.5"/>
<circle cx="405.0" cy="190.8" r="1.5"/>
<circle cx="406.1" cy="201.2" r="1.5"/>
<circle cx="408.4" cy="186.6" r="1.5"/>
<circle cx="409.6" cy="189.7" r="1.5"/>
<circle cx="411.2" cy="191.5" r="1.5"/>
<circle cx="412.7" cy="181.6" r="1.5"/>
<circle cx="414.2" cy="185.1" r="1.5"/>
<circle cx="415.5" cy="185.4" r="1.5"/>
<circle cx="416.5" cy="183.1" r="1.5"/>
<circle cx="418.1" cy="191.2" r="1.5"/>
<circle cx="418.8" cy="194.2" r="1.5"/>
<circle cx="420.7" cy="189.2" r="1.5"/>
<circle cx="422.7" cy="189.7" r="1.5"/>
<circle cx="421.6" cy="186.2" r="1.5"/>
<circle cx="424.2" cy="184.6" r="1.5"/>
<circle cx="444.2" cy="194.2" r="1.5"/>
<circle cx="445.8" cy="183.5" r="1.5"/>
<circle cx="447.3" cy="186.2" r="1.5"/>
<circle cx="448.1" cy="194.2" r="1.5"/>
<circle cx="449.9" cy="194.2" r="1.5"/>
<circle cx="437.3" cy="202.6" r="1.5"/>
<circle cx="432.4" cy="205.5" r="1.5"/>
<circle cx="433.9" cy="206.5" r="1.5"/>
<circle cx="435.8" cy="207.7" r="1.5"/>
<circle cx="435.6" cy="208.2" r="1.5"/>
<circle cx="434.1" cy="211.5" r="1.5"/>
<circle cx="439.6" cy="211.5" r="1.5"/>
<circle cx="457.0" cy="211.5" r="1.5"/>
<circle cx="458.8" cy="211.5" r="1.5"/>
<circle cx="460.6" cy="211.5" r="1.5"/>
<circle cx="457.5" cy="217.3" r="1.5"/>
<circle cx="472.2" cy="222.1" r="1.5"/>
<circle cx="474.0" cy="222.8" r="1.5"/>
<circle cx="475.8" cy="223.3" r="1.5"/>
<circle cx="477.7" cy="222.4" r="1.5"/>
<circle cx="479.5" cy="222.4" r="1.5"/>
<circle cx="481.3" cy="222.4" r="1.5"/>
<circle cx="487.2" cy="211.5" r="1.5"/>
<circle cx="484.4" cy="216.9" r="1.5"/>
<circle cx="486.2" cy="216.9" r="1.5"/>
<circle cx="489.0" cy="216.9" r="1.5"/>
<circle cx="490.8" cy="217.3" r="1.5"/>
<circle cx="492.3" cy="219.1" r="1.5"/>
<circle cx="493.6" cy="221.5" r="1.5"/>
<circle cx="482.6" cy="228.2" r="1.5"/>
<circle cx="510.9" cy="228.2" r="1.5"/>
<circle cx="512.8" cy="228.2" r="1.5"/>
<circle cx="425.3" cy="194.2" r="1.5"/>
<circle cx="426.5" cy="194.2" r="1.5"/>
<circle cx="427.6" cy="194.2" r="1.5"/>
<circle cx="428.8" cy="194.2" r="1.5"/>
<circle cx="430.0" cy="194.2" r="1.5"/>
<circle cx="440.4" cy="201.3" r="1.5"/>
<circle cx="441.4" cy="201.3" r="1.5"/>
<circle cx="442.5" cy="201.3" r="1.5"/>
<circle cx="443.5" cy="201.3" r="1.5"/>
<circle cx="451.2" cy="201.3" r="1.5"/>
<circle cx="452.3" cy="201.3" r="1.5"/>
<circle cx="453.4" cy="201.3" r="1.5"/>
<circle cx="454.4" cy="201.3" r="1.5"/>
<circle cx="455.5" cy="201.3" r="1.5"/>
<circle cx="461.6" cy="228.2" r="1.5"/>
<circle cx="462.7" cy="228.2" r="1.5"/>
<circle cx="463.9" cy="228.2" r="1.5"/>
<circle cx="465.0" cy="228.2" r="1.5"/>
<circle cx="466.1" cy="228.2" r="1.5"/>
<circle cx="467.3" cy="228.2" r="1.5"/>
<circle cx="468.4" cy="228.2" r="1.5"/>
<circle cx="469.6" cy="228.2" r="1.5"/>
<circle cx="470.7" cy="228.2" r="1.5"/>
<circle cx="494.5" cy="228.2" r="1.5"/>
<circle cx="495.6" cy="228.2" r="1.5"/>
<circle cx="496.7" cy="228.2" r="1.5"/>
<circle cx="497.8" cy="228.2" r="1.5"/>
<circle cx="498.9" cy="228.2" r="1.5"/>
<circle cx="499.9" cy="228.2" r="1.5"/>
<circle cx="501.0" cy="228.2" r="1.5"/>
<circle cx="502.1" cy="228.2" r="1.5"/>
<circle cx="503.2" cy="228.2" r="1.5"/>
</g>
</g>
</svg>
</body></html>
